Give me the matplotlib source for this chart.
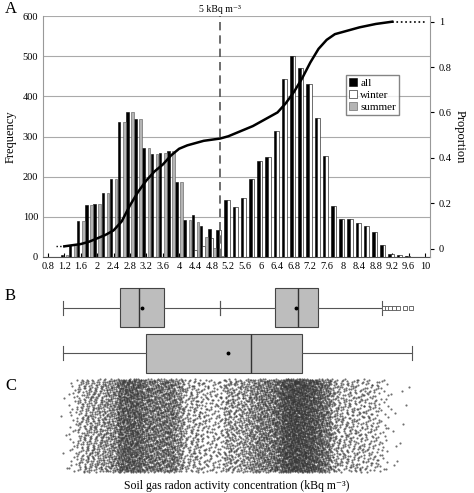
import numpy as np
import matplotlib
matplotlib.use("Agg")
import matplotlib.pyplot as plt

plt.rcParams['font.family'] = ['Liberation Serif', 'DejaVu Serif']

bins = [1.0,1.2,1.4,1.6,1.8,2.0,2.2,2.4,2.6,2.8,3.0,3.2,3.4,3.6,3.8,4.0,4.2,4.4,4.6,4.8,5.0,
        5.2,5.4,5.6,5.8,6.0,6.2,6.4,6.6,6.8,7.0,7.2,7.4,7.6,7.8,8.0,8.2,8.4,8.6,8.8,9.0,9.2,9.4,9.6]
all_c = [0,5,30,90,130,133,160,195,335,362,343,271,256,258,265,186,92,105,76,70,68,
         141,125,148,195,238,248,313,444,500,471,430,347,252,127,94,94,84,78,63,29,7,4,2]
winter_c = [0]*17 + [18,27,47,66] + all_c[21:]
summer_c = all_c[:17] + [87,49,23,3] + [0]*23

cum_x = [1.2,1.4,1.6,1.8,2.0,2.2,2.4,2.6,2.8,3.0,3.2,3.4,3.6,3.8,4.0,4.2,4.4,4.6,4.8,5.0,5.2,5.4,5.6,5.8,
         6.0,6.2,6.4,6.6,6.8,7.0,7.2,7.4,7.6,7.8,8.0,8.4,8.8,9.2]
cum_p = [0.01,0.015,0.02,0.03,0.045,0.06,0.08,0.12,0.19,0.25,0.3,0.34,0.37,0.41,0.44,0.455,0.465,0.475,
         0.48,0.485,0.495,0.51,0.525,0.54,0.56,0.58,0.6,0.64,0.69,0.75,0.82,0.88,0.92,0.945,0.955,0.975,0.99,1.0]

box_stats = {  # whislo, q1, med, mean, q3, whishi
    'summer': [1.17, 2.56, 3.02, 3.09, 3.63, 5.0],
    'winter': [5.0, 6.34, 6.9, 6.84, 7.39, 8.95],
    'all':    [1.17, 3.19, 5.75, 5.2, 7.0, 9.68],
}
winter_outliers = [8.99, 9.07, 9.15, 9.25, 9.35, 9.5, 9.65]

xlim = (0.68, 10.12)
fig = plt.figure(figsize=(4.74, 4.93), dpi=100)

# Panel A
ax = fig.add_axes([43/474, 1-257/493, 387/474, 241/493])
b = np.array(bins); w = 0.062
ax.bar(b - w, all_c, w, color='black', edgecolor='black', lw=0.4, label='all', zorder=3)
ax.bar(b, winter_c, w, color='white', edgecolor='black', lw=0.4, label='winter', zorder=3)
ax.bar(b + w, summer_c, w, color='#b4b4b4', edgecolor='#555555', lw=0.4, label='summer', zorder=3)
ax.set_xlim(*xlim); ax.set_ylim(0, 600)
ticks = np.round(np.arange(0.8, 10.01, 0.4), 1)
ax.set_xticks(ticks)
ax.set_xticklabels([('%g' % t) for t in ticks], fontsize=7.5)
ax.set_yticks(range(0, 601, 100))
ax.tick_params(axis='y', labelsize=7.5, length=0)
ax.tick_params(axis='x', length=3, direction='in')
ax.yaxis.grid(True, color='#aaaaaa', lw=0.8, zorder=0)
for s in ['top', 'right']:
    ax.spines[s].set_visible(False)
ax.spines['left'].set_color('#999999'); ax.spines['bottom'].set_color('#555555')
ax.set_ylabel('Frequency', fontsize=9)
ax.axvline(5.0, color='#555555', ls=(0, (5, 3)), lw=1.2, zorder=4)
ax.text(5.0, 604, '5 kBq m⁻³', ha='center', va='bottom', fontsize=7)
ax.legend(loc='upper right', bbox_to_anchor=(0.935, 0.78), fontsize=8, frameon=True, fancybox=False,
          edgecolor='#666666', handlelength=0.7, handletextpad=0.3, borderpad=0.3, labelspacing=0.2)

ax2 = ax.twinx()
ax2.set_ylim(-0.037, 1.025)
ax2.plot(cum_x, cum_p, color='black', lw=1.8, zorder=5)
ax2.plot([1.0, 1.2], [0.012, 0.012], color='black', lw=1, ls=':')
ax2.plot([9.2, 10.0], [1.0, 1.0], color='black', lw=1.2, ls=':')
ax2.set_yticks([0, 0.2, 0.4, 0.6, 0.8, 1.0])
ax2.set_yticklabels(['0', '0.2', '0.4', '0.6', '0.8', '1'], fontsize=7.5)
ax2.set_ylabel('Proportion', fontsize=9, rotation=270, labelpad=10)
for s in ['top', 'left', 'bottom']:
    ax2.spines[s].set_visible(False)
ax2.spines['right'].set_color('#999999')
ax2.tick_params(axis='y', length=3)

# Panel B
axb = fig.add_axes([43/474, 1-376/493, 387/474, 91/493])
axb.set_xlim(*xlim); axb.set_ylim(0, 2)
bxp = []
for name in ['summer', 'winter', 'all']:
    lo, q1, med, mean, q3, hi = box_stats[name]
    bxp.append(dict(whislo=lo, q1=q1, med=med, mean=mean, q3=q3, whishi=hi,
                    fliers=winter_outliers if name == 'winter' else [], label=name))
axb.bxp(bxp, positions=[1.5, 1.5, 0.5], vert=False, widths=0.85, showmeans=True, patch_artist=True,
        boxprops=dict(facecolor='#bdbdbd', edgecolor='#444444', lw=0.8),
        medianprops=dict(color='#333333', lw=1),
        whiskerprops=dict(color='#555555', lw=0.8), capprops=dict(color='#555555', lw=0.8),
        meanprops=dict(marker='o', markersize=1.8, markerfacecolor='black', markeredgecolor='black'),
        flierprops=dict(marker='s', markersize=3, markerfacecolor='white', markeredgecolor='#555555', markeredgewidth=0.6),
        capwidths=0.3)
axb.axis('off')

# Panel C: deterministic (Halton) strip of the histogram counts
def halton(i, base):
    f, r = 1.0, 0.0
    while i > 0:
        f /= base
        r += f * (i % base)
        i //= base
    return r

axc = fig.add_axes([43/474, 1-475/493, 387/474, 99/493])
axc.set_xlim(*xlim); axc.set_ylim(0, 1)
xs, ys = [], []
k = 0
for c, n in zip(bins, all_c):
    for i in range(n):
        k += 1
        xs.append(c - 0.1 + halton(k, 3) * 0.2)
        ys.append(0.03 + halton(k, 5) * 0.94)
axc.scatter(xs, ys, s=2.4, c='#333333', alpha=0.7, linewidths=0)
axc.axis('off')
fig.text(0.5, 1-486/493, 'Soil gas radon activity concentration (kBq m⁻³)', ha='center', va='center', fontsize=8.5)

fig.text(5/474, 1-13/493, 'A', fontsize=12)
fig.text(5/474, 1-300/493, 'B', fontsize=12)
fig.text(5/474, 1-390/493, 'C', fontsize=12)

fig.savefig('out.png', dpi=100)
